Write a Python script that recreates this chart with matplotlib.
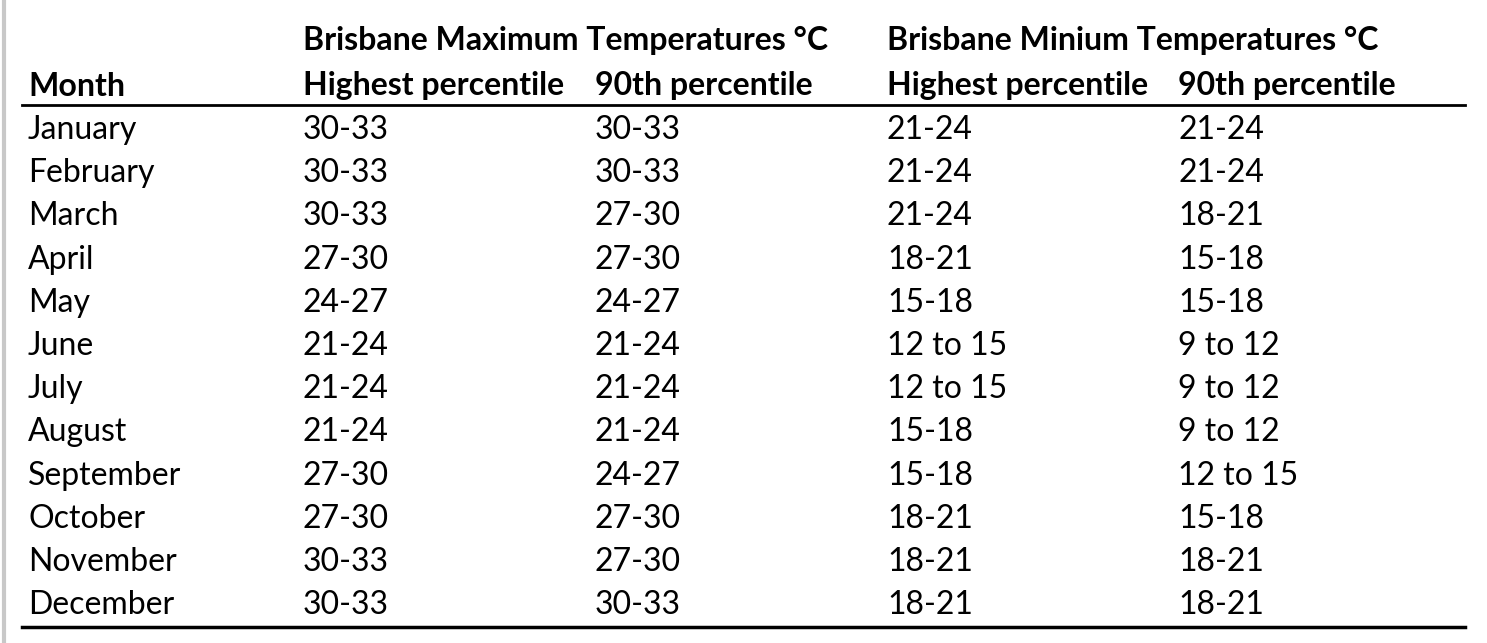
import matplotlib.pyplot as plt

months = ['January', 'February', 'March', 'April', 'May', 'June', 'July',
          'August', 'September', 'October', 'November', 'December']
max_highest = ['30-33', '30-33', '30-33', '27-30', '24-27', '21-24', '21-24',
               '21-24', '27-30', '27-30', '30-33', '30-33']
max_90th = ['30-33', '30-33', '27-30', '27-30', '24-27', '21-24', '21-24',
            '21-24', '24-27', '27-30', '27-30', '30-33']
min_highest = ['21-24', '21-24', '21-24', '18-21', '15-18', '12 to 15', '12 to 15',
               '15-18', '15-18', '18-21', '18-21', '18-21']
min_90th = ['21-24', '21-24', '18-21', '15-18', '15-18', '9 to 12', '9 to 12',
            '9 to 12', '12 to 15', '15-18', '18-21', '18-21']
group_titles = ['Brisbane Maximum Temperatures \u00b0C', 'Brisbane Minium Temperatures \u00b0C']
col_titles = ['Month', 'Highest percentile', '90th percentile', 'Highest percentile', '90th percentile']

plt.rcParams['font.family'] = ['Lato', 'DejaVu Sans']

fig = plt.figure(figsize=(14.87, 6.43), dpi=100)
ax = fig.add_axes([0, 0, 1, 1])
ax.set_xlim(0, 1487)
ax.set_ylim(643, 0)
ax.axis('off')

col_x = [28, 303, 595, 887, 1178]
fs = 23

# left grey border
ax.plot([4, 4], [0, 643], color='#c8c8c8', lw=3)

ax.text(col_x[1], 40, group_titles[0], fontsize=fs, fontweight='bold', va='center')
ax.text(col_x[3], 40, group_titles[1], fontsize=fs, fontweight='bold', va='center')
for x, t in zip(col_x, col_titles):
    ax.text(x, 86, t, fontsize=fs, fontweight='bold', va='center')

ax.plot([22, 1465], [105, 105], color='black', lw=2)

columns = [months, max_highest, max_90th, min_highest, min_90th]
for i in range(len(months)):
    y = 130 + i * 43.2
    for x, col in zip(col_x, columns):
        ax.text(x, y, col[i], fontsize=fs, va='center')

ax.plot([22, 1465], [627, 627], color='black', lw=2.5)

fig.savefig('out.png', dpi=100)
